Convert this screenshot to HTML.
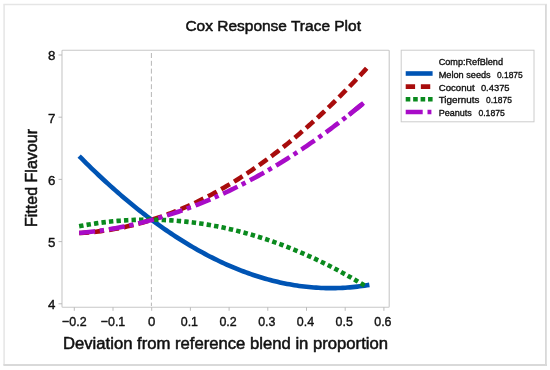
<!DOCTYPE html>
<html><head><meta charset="utf-8"><title>Cox Response Trace Plot</title>
<style>html,body{margin:0;padding:0;background:#fff;}svg{display:block;}text{font-family:"Liberation Sans",sans-serif;fill:#111;stroke:#111;stroke-width:0.38px;stroke-linejoin:round;}.sm{stroke-width:0.34px;}.lg{stroke-width:0.5px;}</style></head><body>
<svg width="550" height="370" viewBox="0 0 550 370">
<rect x="0" y="0" width="550" height="370" fill="#fff"/>
<path d="M3.4,4.6 H546.9" stroke="#e5e5e5" stroke-width="1.5" fill="none"/>
<path d="M4.1,4.6 V365" stroke="#e5e5e5" stroke-width="1.5" fill="none"/>
<path d="M545.9,4.6 V366" stroke="#d9d9d9" stroke-width="1.8" fill="none"/>
<path d="M3.4,365 H546.9" stroke="#d9d9d9" stroke-width="1.8" fill="none"/>
<rect x="62" y="50.3" width="327.2" height="257" rx="0.8" fill="#fff" stroke="#c8c8c8" stroke-width="1.1"/>
<line x1="58.5" y1="303.8" x2="62" y2="303.8" stroke="#b4b4b4" stroke-width="0.9"/>
<text x="55.5" y="309.1" font-size="13.3" text-anchor="end">4</text>
<line x1="58.5" y1="241.6" x2="62" y2="241.6" stroke="#b4b4b4" stroke-width="0.9"/>
<text x="55.5" y="246.9" font-size="13.3" text-anchor="end">5</text>
<line x1="58.5" y1="179.4" x2="62" y2="179.4" stroke="#b4b4b4" stroke-width="0.9"/>
<text x="55.5" y="184.7" font-size="13.3" text-anchor="end">6</text>
<line x1="58.5" y1="117.2" x2="62" y2="117.2" stroke="#b4b4b4" stroke-width="0.9"/>
<text x="55.5" y="122.5" font-size="13.3" text-anchor="end">7</text>
<line x1="58.5" y1="55.0" x2="62" y2="55.0" stroke="#b4b4b4" stroke-width="0.9"/>
<text x="55.5" y="60.3" font-size="13.3" text-anchor="end">8</text>
<line x1="74.3" y1="307.3" x2="74.3" y2="310.8" stroke="#b4b4b4" stroke-width="0.9"/>
<text x="74.3" y="325.6" font-size="13.2" text-anchor="middle" textLength="24.6" lengthAdjust="spacingAndGlyphs">−0.2</text>
<line x1="113.0" y1="307.3" x2="113.0" y2="310.8" stroke="#b4b4b4" stroke-width="0.9"/>
<text x="113.0" y="325.6" font-size="13.2" text-anchor="middle" textLength="24.6" lengthAdjust="spacingAndGlyphs">−0.1</text>
<line x1="151.7" y1="307.3" x2="151.7" y2="310.8" stroke="#b4b4b4" stroke-width="0.9"/>
<text x="151.7" y="325.6" font-size="13.2" text-anchor="middle">0</text>
<line x1="190.4" y1="307.3" x2="190.4" y2="310.8" stroke="#b4b4b4" stroke-width="0.9"/>
<text x="189.4" y="325.6" font-size="13.2" text-anchor="middle" textLength="17.3" lengthAdjust="spacingAndGlyphs">0.1</text>
<line x1="229.1" y1="307.3" x2="229.1" y2="310.8" stroke="#b4b4b4" stroke-width="0.9"/>
<text x="228.1" y="325.6" font-size="13.2" text-anchor="middle" textLength="17.3" lengthAdjust="spacingAndGlyphs">0.2</text>
<line x1="267.8" y1="307.3" x2="267.8" y2="310.8" stroke="#b4b4b4" stroke-width="0.9"/>
<text x="266.8" y="325.6" font-size="13.2" text-anchor="middle" textLength="17.3" lengthAdjust="spacingAndGlyphs">0.3</text>
<line x1="306.5" y1="307.3" x2="306.5" y2="310.8" stroke="#b4b4b4" stroke-width="0.9"/>
<text x="305.5" y="325.6" font-size="13.2" text-anchor="middle" textLength="17.3" lengthAdjust="spacingAndGlyphs">0.4</text>
<line x1="345.2" y1="307.3" x2="345.2" y2="310.8" stroke="#b4b4b4" stroke-width="0.9"/>
<text x="344.2" y="325.6" font-size="13.2" text-anchor="middle" textLength="17.3" lengthAdjust="spacingAndGlyphs">0.5</text>
<line x1="383.9" y1="307.3" x2="383.9" y2="310.8" stroke="#b4b4b4" stroke-width="0.9"/>
<text x="382.9" y="325.6" font-size="13.2" text-anchor="middle" textLength="17.3" lengthAdjust="spacingAndGlyphs">0.6</text>
<line x1="151.4" y1="53" x2="151.4" y2="306" stroke="#aaaaaa" stroke-width="0.85" stroke-dasharray="5 2.8"/>
<path d="M79.14,156.05 L81.56,158.49 L83.97,160.90 L86.39,163.30 L88.81,165.68 L91.23,168.03 L93.65,170.37 L96.07,172.68 L98.49,174.97 L100.91,177.24 L103.32,179.49 L105.74,181.71 L108.16,183.92 L110.58,186.10 L113.00,188.26 L115.42,190.40 L117.84,192.52 L120.26,194.62 L122.67,196.69 L125.09,198.75 L127.51,200.78 L129.93,202.79 L132.35,204.77 L134.77,206.74 L137.19,208.68 L139.61,210.60 L142.02,212.50 L144.44,214.37 L146.86,216.23 L149.28,218.06 L151.70,219.87 L154.12,221.65 L156.54,223.42 L158.96,225.16 L161.38,226.88 L163.79,228.57 L166.21,230.25 L168.63,231.90 L171.05,233.52 L173.47,235.13 L175.89,236.71 L178.31,238.27 L180.72,239.80 L183.14,241.32 L185.56,242.81 L187.98,244.27 L190.40,245.72 L192.82,247.14 L195.24,248.53 L197.66,249.91 L200.07,251.26 L202.49,252.59 L204.91,253.89 L207.33,255.17 L209.75,256.43 L212.17,257.66 L214.59,258.87 L217.01,260.05 L219.43,261.21 L221.84,262.35 L224.26,263.47 L226.68,264.56 L229.10,265.62 L231.52,266.66 L233.94,267.68 L236.36,268.68 L238.78,269.65 L241.19,270.59 L243.61,271.51 L246.03,272.41 L248.45,273.28 L250.87,274.13 L253.29,274.96 L255.71,275.76 L258.12,276.53 L260.54,277.28 L262.96,278.01 L265.38,278.71 L267.80,279.39 L270.22,280.04 L272.64,280.67 L275.06,281.27 L277.48,281.85 L279.89,282.40 L282.31,282.93 L284.73,283.43 L287.15,283.91 L289.57,284.36 L291.99,284.79 L294.41,285.19 L296.82,285.56 L299.24,285.92 L301.66,286.24 L304.08,286.54 L306.50,286.82 L308.92,287.07 L311.34,287.29 L313.76,287.49 L316.18,287.66 L318.59,287.81 L321.01,287.93 L323.43,288.03 L325.85,288.10 L328.27,288.14 L330.69,288.16 L333.11,288.15 L335.53,288.12 L337.94,288.06 L340.36,287.97 L342.78,287.86 L345.20,287.72 L347.62,287.56 L350.04,287.37 L352.46,287.15 L354.88,286.91 L357.29,286.64 L359.71,286.34 L362.13,286.02 L364.55,285.67 L366.97,285.29 L369.39,284.89" fill="none" stroke="#0054b4" stroke-width="4.6"/>
<path d="M79.14,233.06 L81.56,232.93 L83.97,232.77 L86.39,232.60 L88.81,232.40 L91.23,232.18 L93.65,231.95 L96.07,231.69 L98.49,231.40 L100.91,231.10 L103.32,230.78 L105.74,230.43 L108.16,230.07 L110.58,229.68 L113.00,229.27 L115.42,228.84 L117.84,228.39 L120.26,227.91 L122.67,227.42 L125.09,226.90 L127.51,226.37 L129.93,225.81 L132.35,225.23 L134.77,224.63 L137.19,224.01 L139.61,223.36 L142.02,222.70 L144.44,222.01 L146.86,221.31 L149.28,220.58 L151.70,219.83 L154.12,219.06 L156.54,218.27 L158.96,217.45 L161.38,216.62 L163.79,215.76 L166.21,214.89 L168.63,213.99 L171.05,213.07 L173.47,212.13 L175.89,211.17 L178.31,210.18 L180.72,209.18 L183.14,208.15 L185.56,207.11 L187.98,206.04 L190.40,204.95 L192.82,203.84 L195.24,202.71 L197.66,201.55 L200.07,200.38 L202.49,199.18 L204.91,197.96 L207.33,196.73 L209.75,195.47 L212.17,194.18 L214.59,192.88 L217.01,191.56 L219.43,190.21 L221.84,188.85 L224.26,187.46 L226.68,186.05 L229.10,184.62 L231.52,183.17 L233.94,181.70 L236.36,180.21 L238.78,178.69 L241.19,177.15 L243.61,175.60 L246.03,174.02 L248.45,172.42 L250.87,170.80 L253.29,169.15 L255.71,167.49 L258.12,165.81 L260.54,164.10 L262.96,162.37 L265.38,160.62 L267.80,158.85 L270.22,157.06 L272.64,155.25 L275.06,153.42 L277.48,151.56 L279.89,149.68 L282.31,147.79 L284.73,145.87 L287.15,143.93 L289.57,141.97 L291.99,139.98 L294.41,137.98 L296.82,135.95 L299.24,133.91 L301.66,131.84 L304.08,129.75 L306.50,127.64 L308.92,125.51 L311.34,123.36 L313.76,121.18 L316.18,118.99 L318.59,116.77 L321.01,114.53 L323.43,112.27 L325.85,109.99 L328.27,107.69 L330.69,105.37 L333.11,103.02 L335.53,100.66 L337.94,98.27 L340.36,95.86 L342.78,93.43 L345.20,90.98 L347.62,88.51 L350.04,86.02 L352.46,83.50 L354.88,80.97 L357.29,78.41 L359.71,75.83 L362.13,73.23 L364.55,70.61 L366.97,67.97 L369.39,65.31" fill="none" stroke="#a80c0c" stroke-width="4.6" stroke-dasharray="10 5"/>
<path d="M79.14,226.23 L81.56,225.78 L83.97,225.34 L86.39,224.91 L88.81,224.50 L91.23,224.11 L93.65,223.74 L96.07,223.38 L98.49,223.04 L100.91,222.71 L103.32,222.40 L105.74,222.11 L108.16,221.83 L110.58,221.57 L113.00,221.33 L115.42,221.10 L117.84,220.89 L120.26,220.69 L122.67,220.52 L125.09,220.35 L127.51,220.21 L129.93,220.08 L132.35,219.97 L134.77,219.87 L137.19,219.79 L139.61,219.73 L142.02,219.68 L144.44,219.65 L146.86,219.64 L149.28,219.64 L151.70,219.66 L154.12,219.69 L156.54,219.74 L158.96,219.81 L161.38,219.89 L163.79,219.99 L166.21,220.11 L168.63,220.24 L171.05,220.39 L173.47,220.56 L175.89,220.74 L178.31,220.94 L180.72,221.16 L183.14,221.39 L185.56,221.64 L187.98,221.90 L190.40,222.18 L192.82,222.48 L195.24,222.79 L197.66,223.12 L200.07,223.47 L202.49,223.83 L204.91,224.21 L207.33,224.61 L209.75,225.02 L212.17,225.45 L214.59,225.89 L217.01,226.35 L219.43,226.83 L221.84,227.33 L224.26,227.84 L226.68,228.36 L229.10,228.91 L231.52,229.47 L233.94,230.04 L236.36,230.64 L238.78,231.24 L241.19,231.87 L243.61,232.51 L246.03,233.17 L248.45,233.84 L250.87,234.54 L253.29,235.24 L255.71,235.97 L258.12,236.71 L260.54,237.46 L262.96,238.24 L265.38,239.03 L267.80,239.83 L270.22,240.65 L272.64,241.49 L275.06,242.35 L277.48,243.22 L279.89,244.11 L282.31,245.01 L284.73,245.93 L287.15,246.87 L289.57,247.82 L291.99,248.79 L294.41,249.78 L296.82,250.78 L299.24,251.80 L301.66,252.83 L304.08,253.88 L306.50,254.95 L308.92,256.04 L311.34,257.14 L313.76,258.26 L316.18,259.39 L318.59,260.54 L321.01,261.71 L323.43,262.89 L325.85,264.09 L328.27,265.30 L330.69,266.54 L333.11,267.78 L335.53,269.05 L337.94,270.33 L340.36,271.63 L342.78,272.94 L345.20,274.27 L347.62,275.62 L350.04,276.98 L352.46,278.36 L354.88,279.76 L357.29,281.17 L359.71,282.60 L362.13,284.05 L364.51,285.48" fill="none" stroke="#0a8a1e" stroke-width="4.6" stroke-dasharray="4.4 3.14"/>
<path d="M79.14,233.02 L81.56,232.81 L83.97,232.58 L86.39,232.33 L88.81,232.07 L91.23,231.80 L93.65,231.51 L96.07,231.20 L98.49,230.88 L100.91,230.55 L103.32,230.20 L105.74,229.83 L108.16,229.45 L110.58,229.05 L113.00,228.64 L115.42,228.21 L117.84,227.77 L120.26,227.31 L122.67,226.83 L125.09,226.34 L127.51,225.84 L129.93,225.32 L132.35,224.79 L134.77,224.24 L137.19,223.67 L139.61,223.09 L142.02,222.49 L144.44,221.88 L146.86,221.25 L149.28,220.61 L151.70,219.95 L154.12,219.28 L156.54,218.59 L158.96,217.89 L161.38,217.17 L163.79,216.44 L166.21,215.69 L168.63,214.92 L171.05,214.14 L173.47,213.35 L175.89,212.54 L178.31,211.71 L180.72,210.87 L183.14,210.01 L185.56,209.14 L187.98,208.26 L190.40,207.35 L192.82,206.43 L195.24,205.50 L197.66,204.55 L200.07,203.59 L202.49,202.61 L204.91,201.62 L207.33,200.61 L209.75,199.58 L212.17,198.54 L214.59,197.49 L217.01,196.42 L219.43,195.33 L221.84,194.23 L224.26,193.11 L226.68,191.98 L229.10,190.83 L231.52,189.67 L233.94,188.49 L236.36,187.30 L238.78,186.09 L241.19,184.87 L243.61,183.63 L246.03,182.37 L248.45,181.10 L250.87,179.82 L253.29,178.52 L255.71,177.20 L258.12,175.87 L260.54,174.52 L262.96,173.16 L265.38,171.79 L267.80,170.39 L270.22,168.99 L272.64,167.56 L275.06,166.12 L277.48,164.67 L279.89,163.20 L282.31,161.72 L284.73,160.22 L287.15,158.70 L289.57,157.17 L291.99,155.63 L294.41,154.07 L296.82,152.49 L299.24,150.90 L301.66,149.29 L304.08,147.67 L306.50,146.04 L308.92,144.38 L311.34,142.72 L313.76,141.03 L316.18,139.33 L318.59,137.62 L321.01,135.89 L323.43,134.15 L325.85,132.39 L328.27,130.61 L330.69,128.82 L333.11,127.02 L335.53,125.20 L337.94,123.36 L340.36,121.51 L342.78,119.64 L345.20,117.76 L347.62,115.86 L350.04,113.95 L352.46,112.02 L354.88,110.08 L357.29,108.12 L359.71,106.15 L362.13,104.16 L362.28,104.03" fill="none" stroke="#a80cc8" stroke-width="4.6" stroke-dasharray="16 4.7 4.3 5"/>
<path d="M348.91,114.84 L350.04,113.95 L352.46,112.02 L354.88,110.08 L357.29,108.12 L359.71,106.15 L362.13,104.16 L363.52,103.01" fill="none" stroke="#a80cc8" stroke-width="4.6"/>
<text class="lg" x="273.2" y="31.0" font-size="15.2" text-anchor="middle" textLength="175.6" lengthAdjust="spacingAndGlyphs">Cox Response Trace Plot</text>
<text class="lg" x="225.5" y="348.8" font-size="15.8" text-anchor="middle" textLength="325" lengthAdjust="spacingAndGlyphs">Deviation from reference blend in proportion</text>
<text class="lg" transform="translate(36.6,178) rotate(-90)" font-size="15.8" text-anchor="middle" textLength="98" lengthAdjust="spacingAndGlyphs">Fitted Flavour</text>
<rect x="401.2" y="50.2" width="132.8" height="71.6" fill="#fff" stroke="#cccccc" stroke-width="1"/>
<text class="sm" x="438.7" y="65.0" font-size="9" textLength="64.3" lengthAdjust="spacingAndGlyphs">Comp:RefBlend</text>
<text class="sm" x="438.7" y="78.2" font-size="9" textLength="52.0" lengthAdjust="spacingAndGlyphs">Melon seeds</text>
<text class="sm" x="496.9" y="78.2" font-size="9" textLength="25.9" lengthAdjust="spacingAndGlyphs">0.1875</text>
<text class="sm" x="438.7" y="90.8" font-size="9" textLength="35.9" lengthAdjust="spacingAndGlyphs">Coconut</text>
<text class="sm" x="480.9" y="90.8" font-size="9" textLength="28.7" lengthAdjust="spacingAndGlyphs">0.4375</text>
<text class="sm" x="438.7" y="103.1" font-size="9" textLength="40.7" lengthAdjust="spacingAndGlyphs">Tigernuts</text>
<text class="sm" x="486.0" y="103.1" font-size="9" textLength="25.9" lengthAdjust="spacingAndGlyphs">0.1875</text>
<text class="sm" x="438.7" y="116.0" font-size="9" textLength="33.1" lengthAdjust="spacingAndGlyphs">Peanuts</text>
<text class="sm" x="478.4" y="116.0" font-size="9" textLength="26.5" lengthAdjust="spacingAndGlyphs">0.1875</text>
<line x1="405.7" y1="73.5" x2="432.6" y2="73.5" stroke="#0054b4" stroke-width="4.6"/>
<line x1="405.7" y1="86.6" x2="432.3" y2="86.6" stroke="#a80c0c" stroke-width="4.6" stroke-dasharray="9.4 5.75"/>
<line x1="405.7" y1="99.2" x2="432.6" y2="99.2" stroke="#0a8a1e" stroke-width="4.6" stroke-dasharray="4.6 2.85"/>
<line x1="405.7" y1="112" x2="431.4" y2="112" stroke="#a80cc8" stroke-width="4.6" stroke-dasharray="17 4.8 3.9 5"/>
</svg></body></html>
